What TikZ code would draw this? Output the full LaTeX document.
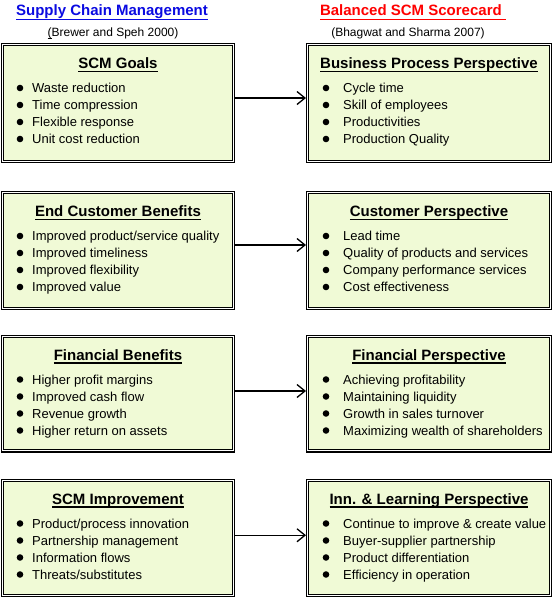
\documentclass[tikz,border=0pt]{standalone}
\usepackage{fontspec}
\setmainfont{Liberation Sans}
\usetikzlibrary{arrows.meta}
\definecolor{boxfill}{RGB}{240,250,214}
\definecolor{hblue}{RGB}{10,10,225}
\definecolor{hred}{RGB}{255,0,0}
\newcommand{\myul}[3]{\setbox0\hbox{#3}\rlap{\rule[#1]{\wd0}{#2}}\box0}
% #1 name, #2 left x, #3 right x, #4 top, #5 height, #6 title, #7 dot x, #8 text x, #9 items
\newcommand{\panel}[9]{%
  \node[box, minimum width={#3-#2-3.4}, minimum height={#5-3.4}] (#1) at ({(#2+#3)/2},{#4+#5/2}) {};
  \node[ttl] (#1-t) at ({(#2+#3)/2},{#4+25.5}) {\myul{-3.6pt}{1.2pt}{#6}};
  \foreach \t [count=\i] in {#9}{
    \fill (#7,{#4+45+17*(\i-1)}) circle (3.3pt);
    \node[itm] (#1-\i) at (#8,{#4+49.7+17*(\i-1)}) {\t};
  }%
}
\begin{document}
\begin{tikzpicture}[x=1pt,y=-1pt,
  box/.style={draw=black, double=white, double distance=1.2pt, line width=1.1pt, fill=boxfill, inner sep=0pt, outer sep=1.7pt},
  ttl/.style={anchor=base, font=\fontsize{15}{18}\selectfont\bfseries, inner sep=0pt},
  itm/.style={anchor=base west, font=\fontsize{13}{16}\selectfont, inner sep=0pt},
  hdr/.style={anchor=base, font=\fontsize{15}{18}\selectfont\bfseries, inner sep=0pt},
  cit/.style={anchor=base, font=\fontsize{12}{14}\selectfont, inner sep=0pt},
  arr/.style={-{Straight Barb[length=8pt,width=13pt]}, line width=1.3pt}]
\useasboundingbox (0,0) rectangle (553,598);

\node[hdr, text=hblue] (h1) at (112,15.7) {\myul{-4.2pt}{1.3pt}{Supply Chain Management}};
\node[cit] (c1) at (113,36.5) {\myul{-2.4pt}{0.8pt}{(}Brewer and Speh 2000)};
\node[hdr, text=hred] (h2) at (413,15.7) {\myul{-4.2pt}{1.3pt}{Balanced SCM Scorecard\ }};
\node[cit] (c2) at (408,36.5) {(Bhagwat and Sharma 2007)};

\panel{L1}{1}{235}{43}{120}{SCM Goals}{20}{32}{Waste reduction,Time compression,Flexible response,Unit cost reduction}
\panel{R1}{306}{552}{43}{120}{Business Process Perspective}{326}{343}{Cycle time,Skill of employees,Productivities,Production Quality}

\panel{L2}{1}{235}{191}{119}{End Customer Benefits}{20}{32}{Improved product/service quality,Improved timeliness,Improved flexibility,Improved value}
\panel{R2}{306}{552}{191}{119}{Customer Perspective}{326}{343}{Lead time,Quality of products and services,Company performance services,Cost effectiveness}

\panel{L3}{1}{235}{334.5}{118}{Financial Benefits}{20}{32}{Higher profit margins,Improved cash flow,Revenue growth,Higher return on assets}
\panel{R3}{306}{552}{334.5}{118}{Financial Perspective}{326}{343}{Achieving profitability,Maintaining liquidity,Growth in sales turnover,Maximizing wealth of shareholders}

\panel{L4}{1}{235}{478.5}{118.5}{SCM Improvement}{20}{32}{Product/process innovation,Partnership management,Information flows,Threats/substitutes}
\panel{R4}{306}{552}{478.5}{118.5}{Inn. \& Learning Perspective}{326}{343}{Continue to improve \& create value,Buyer-supplier partnership,Product differentiation,Efficiency in operation}

\draw[arr] ([yshift=5pt]L1.east) -- ([yshift=5pt]R1.west);
\draw[arr] ([yshift=5.5pt]L2.east) -- ([yshift=5.5pt]R2.west);
\draw[arr] ([yshift=2.5pt]L3.east) -- ([yshift=2.5pt]R3.west);
\draw[arr] ([yshift=2.5pt]L4.east) -- ([yshift=2.5pt]R4.west);
\end{tikzpicture}
\end{document}
